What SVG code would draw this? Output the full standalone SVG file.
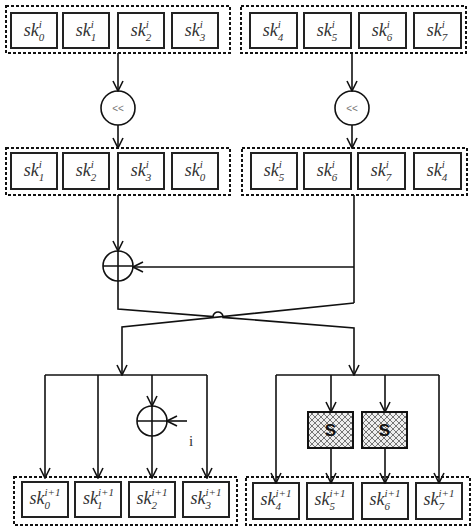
<svg xmlns="http://www.w3.org/2000/svg" width="474" height="530" viewBox="0 0 474 530">
<style>
.grp{fill:none;stroke:#111;stroke-width:2;stroke-dasharray:3,2}
.box{fill:#fff;stroke:#222;stroke-width:2}
.ln{fill:none;stroke:#111;stroke-width:1.6}
.op{fill:#fff;stroke:#111;stroke-width:1.6}
.t{font-family:"Liberation Serif",serif;font-style:italic;font-size:18px;fill:#333;text-anchor:middle}
.s{font-size:11px}
.sh{font-family:"Liberation Sans",sans-serif;font-size:10px;fill:#777;text-anchor:middle}
.sbox{fill:url(#hatch);stroke:#111;stroke-width:2}
.slab{font-family:"Liberation Sans",sans-serif;font-weight:bold;font-size:17px;fill:#111;text-anchor:middle}
</style>
<defs>
<marker id="arr" viewBox="-11 -6 12 12" refX="0" refY="0" markerWidth="12" markerHeight="12" markerUnits="userSpaceOnUse" orient="auto">
<path d="M-10,-5 L0,0 L-10,5" fill="none" stroke="#111" stroke-width="1.6"/>
</marker>
<pattern id="hatch" width="6" height="6" patternUnits="userSpaceOnUse">
<rect width="6" height="6" fill="#eee"/>
<path d="M0,0 L6,6 M6,0 L0,6" stroke="#555" stroke-width="0.8"/>
</pattern>
</defs>

<g id="row1-left">
<rect class="grp" x="6" y="6" width="224" height="47"/>
<rect class="box" x="11" y="13" width="46" height="35"/>
<text class="t" x="34" y="36">sk<tspan class="s" dy="-8">i</tspan><tspan class="s" dx="-3" dy="13">0</tspan></text>
<rect class="box" x="63" y="13" width="46" height="35"/>
<text class="t" x="86" y="36">sk<tspan class="s" dy="-8">i</tspan><tspan class="s" dx="-3" dy="13">1</tspan></text>
<rect class="box" x="118" y="13" width="46" height="35"/>
<text class="t" x="141" y="36">sk<tspan class="s" dy="-8">i</tspan><tspan class="s" dx="-3" dy="13">2</tspan></text>
<rect class="box" x="172" y="13" width="46" height="35"/>
<text class="t" x="195" y="36">sk<tspan class="s" dy="-8">i</tspan><tspan class="s" dx="-3" dy="13">3</tspan></text>
</g>

<g id="row1-right">
<rect class="grp" x="241" y="6" width="225" height="47"/>
<rect class="box" x="250" y="13" width="47" height="35"/>
<text class="t" x="273" y="36">sk<tspan class="s" dy="-8">i</tspan><tspan class="s" dx="-3" dy="13">4</tspan></text>
<rect class="box" x="304" y="13" width="47" height="35"/>
<text class="t" x="327" y="36">sk<tspan class="s" dy="-8">i</tspan><tspan class="s" dx="-3" dy="13">5</tspan></text>
<rect class="box" x="359" y="13" width="47" height="35"/>
<text class="t" x="382" y="36">sk<tspan class="s" dy="-8">i</tspan><tspan class="s" dx="-3" dy="13">6</tspan></text>
<rect class="box" x="414" y="13" width="47" height="35"/>
<text class="t" x="437" y="36">sk<tspan class="s" dy="-8">i</tspan><tspan class="s" dx="-3" dy="13">7</tspan></text>
</g>

<g id="rot-left">
<circle class="op" cx="118" cy="108" r="17"/>
<text class="sh" x="118" y="112">&lt;&lt;</text>
</g>
<g id="rot-right">
<circle class="op" cx="352" cy="108" r="17"/>
<text class="sh" x="352" y="112">&lt;&lt;</text>
</g>

<g id="row2-left">
<rect class="grp" x="6" y="148" width="224" height="47"/>
<rect class="box" x="11" y="153" width="46" height="36"/>
<text class="t" x="34" y="176">sk<tspan class="s" dy="-8">i</tspan><tspan class="s" dx="-3" dy="13">1</tspan></text>
<rect class="box" x="63" y="153" width="46" height="36"/>
<text class="t" x="86" y="176">sk<tspan class="s" dy="-8">i</tspan><tspan class="s" dx="-3" dy="13">2</tspan></text>
<rect class="box" x="118" y="153" width="46" height="36"/>
<text class="t" x="141" y="176">sk<tspan class="s" dy="-8">i</tspan><tspan class="s" dx="-3" dy="13">3</tspan></text>
<rect class="box" x="172" y="153" width="46" height="36"/>
<text class="t" x="195" y="176">sk<tspan class="s" dy="-8">i</tspan><tspan class="s" dx="-3" dy="13">0</tspan></text>
</g>

<g id="row2-right">
<rect class="grp" x="242" y="148" width="225" height="47"/>
<rect class="box" x="251" y="153" width="46" height="36"/>
<text class="t" x="274" y="176">sk<tspan class="s" dy="-8">i</tspan><tspan class="s" dx="-3" dy="13">5</tspan></text>
<rect class="box" x="304" y="153" width="47" height="36"/>
<text class="t" x="327" y="176">sk<tspan class="s" dy="-8">i</tspan><tspan class="s" dx="-3" dy="13">6</tspan></text>
<rect class="box" x="358" y="153" width="47" height="36"/>
<text class="t" x="381" y="176">sk<tspan class="s" dy="-8">i</tspan><tspan class="s" dx="-3" dy="13">7</tspan></text>
<rect class="box" x="414" y="153" width="47" height="36"/>
<text class="t" x="437" y="176">sk<tspan class="s" dy="-8">i</tspan><tspan class="s" dx="-3" dy="13">4</tspan></text>
</g>

<g id="xor-main">
<circle class="op" cx="118" cy="266" r="15"/>
<path class="ln" d="M103,266 H133 M118,251 V281"/>
</g>

<g id="xor-i">
<circle class="op" cx="152" cy="421" r="15"/>
<path class="ln" d="M137,421 H167 M152,406 V436"/>
<text x="189" y="446" font-family="Liberation Serif,serif" font-size="15" fill="#333">i</text>
</g>

<g id="sbox-5">
<rect class="sbox" x="308" y="412" width="45" height="36"/>
<text class="slab" x="330.5" y="436">S</text>
</g>
<g id="sbox-6">
<rect class="sbox" x="362" y="412" width="45" height="36"/>
<text class="slab" x="384.5" y="436">S</text>
</g>

<g id="row3-left">
<rect class="grp" x="14" y="477" width="223" height="48"/>
<rect class="box" x="22" y="482" width="46" height="35"/>
<text class="t" x="45" y="504">sk<tspan class="s" dy="-8">i+1</tspan><tspan class="s" dx="-16" dy="13">0</tspan></text>
<rect class="box" x="75" y="482" width="46" height="35"/>
<text class="t" x="98" y="504">sk<tspan class="s" dy="-8">i+1</tspan><tspan class="s" dx="-16" dy="13">1</tspan></text>
<rect class="box" x="129" y="482" width="46" height="35"/>
<text class="t" x="152" y="504">sk<tspan class="s" dy="-8">i+1</tspan><tspan class="s" dx="-16" dy="13">2</tspan></text>
<rect class="box" x="183" y="482" width="46" height="35"/>
<text class="t" x="206" y="504">sk<tspan class="s" dy="-8">i+1</tspan><tspan class="s" dx="-16" dy="13">3</tspan></text>
</g>

<g id="row3-right">
<rect class="grp" x="246" y="477" width="224" height="48"/>
<rect class="box" x="253" y="483" width="46" height="36"/>
<text class="t" x="276" y="505">sk<tspan class="s" dy="-8">i+1</tspan><tspan class="s" dx="-16" dy="13">4</tspan></text>
<rect class="box" x="307" y="483" width="46" height="36"/>
<text class="t" x="330" y="505">sk<tspan class="s" dy="-8">i+1</tspan><tspan class="s" dx="-16" dy="13">5</tspan></text>
<rect class="box" x="362" y="483" width="46" height="36"/>
<text class="t" x="385" y="505">sk<tspan class="s" dy="-8">i+1</tspan><tspan class="s" dx="-16" dy="13">6</tspan></text>
<rect class="box" x="416" y="483" width="46" height="36"/>
<text class="t" x="439" y="505">sk<tspan class="s" dy="-8">i+1</tspan><tspan class="s" dx="-16" dy="13">7</tspan></text>
</g>

<g id="connectors">
<path class="ln" d="M118,53 V91" marker-end="url(#arr)"/>
<path class="ln" d="M118,125 V148" marker-end="url(#arr)"/>
<path class="ln" d="M352,53 V91" marker-end="url(#arr)"/>
<path class="ln" d="M352,125 V148" marker-end="url(#arr)"/>
<path class="ln" d="M118,195 V251" marker-end="url(#arr)"/>
<path class="ln" d="M354,195 V303"/>
<path class="ln" d="M354,267 H133" marker-end="url(#arr)"/>
<path class="ln" d="M118,281 V309 L213,316.6 A5,5 0 0 1 223,317.4 L354,328 V375" marker-end="url(#arr)"/>
<path class="ln" d="M354,303 L122,327 V375" marker-end="url(#arr)"/>
<path class="ln" d="M45,375 H207"/>
<path class="ln" d="M45,375 V478" marker-end="url(#arr)"/>
<path class="ln" d="M98,375 V478" marker-end="url(#arr)"/>
<path class="ln" d="M152,375 V406" marker-end="url(#arr)"/>
<path class="ln" d="M152,436 V478" marker-end="url(#arr)"/>
<path class="ln" d="M207,375 V478" marker-end="url(#arr)"/>
<path class="ln" d="M187,421 H167" marker-end="url(#arr)"/>
<path class="ln" d="M276,375 H439"/>
<path class="ln" d="M276,375 V483" marker-end="url(#arr)"/>
<path class="ln" d="M331,375 V412" marker-end="url(#arr)"/>
<path class="ln" d="M331,448 V483" marker-end="url(#arr)"/>
<path class="ln" d="M385,375 V412" marker-end="url(#arr)"/>
<path class="ln" d="M385,448 V483" marker-end="url(#arr)"/>
<path class="ln" d="M439,375 V483" marker-end="url(#arr)"/>
</g>
</svg>
